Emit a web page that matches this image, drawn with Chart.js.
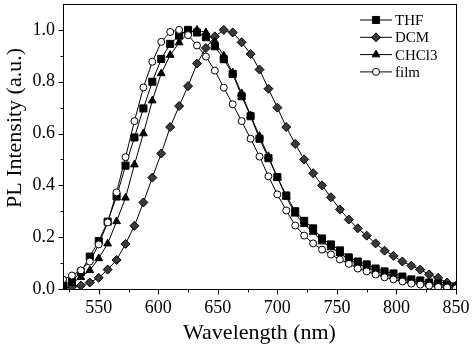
<!DOCTYPE html>
<html>
<head>
<meta charset="utf-8">
<script src="https://cdn.jsdelivr.net/npm/chart.js@4.4.0/dist/chart.umd.min.js"></script>
<style>
html, body { margin: 0; background: #fff; }
#wrap { width: 474px; height: 351px; }
</style>
</head>
<body>
<div id="wrap"><canvas id="plChart"></canvas></div>
<script>
const wavelength = [520, 527.5, 535, 542.5, 550, 557.5, 565, 572.5, 580, 587.5, 595, 602.5, 610, 617.5, 625,
    632.5, 640, 647.5, 655, 662.5, 670, 677.5, 685, 692.5, 700, 707.5, 715, 722.5, 730, 737.5,
    745, 752.5, 760, 767.5, 775, 782.5, 790, 797.5, 805, 812.5, 820, 827.5, 835, 842.5, 850]

const thf = [0.015, 0.03, 0.065, 0.125, 0.185, 0.26, 0.357, 0.476, 0.585, 0.697, 0.80, 0.888, 0.946, 0.978, 1.0,
    0.99, 0.972, 0.937, 0.887, 0.83, 0.744, 0.667, 0.58, 0.505, 0.432, 0.361, 0.30, 0.263, 0.234, 0.195,
    0.172, 0.149, 0.122, 0.106, 0.095, 0.079, 0.068, 0.06, 0.048, 0.037, 0.033, 0.025, 0.021, 0.014, 0.01]
const dcm = [0.003, 0.008, 0.013, 0.025, 0.043, 0.075, 0.112, 0.174, 0.244, 0.334, 0.43, 0.523, 0.625, 0.706, 0.783,
    0.87, 0.93, 0.975, 1.0, 0.99, 0.952, 0.907, 0.847, 0.773, 0.70, 0.625, 0.56, 0.5, 0.447, 0.40,
    0.354, 0.307, 0.268, 0.234, 0.206, 0.176, 0.148, 0.128, 0.106, 0.09, 0.075, 0.056, 0.043, 0.025, 0.013]
const chcl3 = [0.008, 0.022, 0.045, 0.072, 0.118, 0.175, 0.261, 0.352, 0.48, 0.6, 0.727, 0.832, 0.903, 0.951, 0.988,
    1.0, 0.99, 0.955, 0.9, 0.835, 0.755, 0.67, 0.59, 0.512, 0.43, 0.355, 0.29, 0.25, 0.22, 0.183,
    0.16, 0.138, 0.113, 0.098, 0.085, 0.07, 0.06, 0.05, 0.04, 0.031, 0.026, 0.019, 0.015, 0.01, 0.006]
const film = [0.037, 0.052, 0.072, 0.106, 0.172, 0.257, 0.373, 0.509, 0.648, 0.778, 0.877, 0.954, 0.992, 1.0, 0.98,
    0.94, 0.897, 0.843, 0.777, 0.713, 0.648, 0.58, 0.511, 0.435, 0.365, 0.303, 0.245, 0.206, 0.176, 0.152,
    0.133, 0.114, 0.097, 0.079, 0.068, 0.056, 0.045, 0.037, 0.029, 0.021, 0.017, 0.013, 0.008, 0.006, 0.003]

const xTicks = [550, 600, 650, 700, 750, 800, 850]
const xMinorTicks = [525, 575, 625, 675, 725, 775, 825]
const yTicks = [0, 0.2, 0.4, 0.6, 0.8, 1.0]
const yMinorTicks = [0.1, 0.3, 0.5, 0.7, 0.9]

const serif = "'Liberation Serif', 'Times New Roman', serif"

const series = [
    { label: 'THF', values: thf, style: 'rect', radius: 5, fill: '#000', order: 1 },
    { label: 'DCM', values: dcm, style: 'rectRot', radius: 4.5, fill: '#3a3a3a', order: 3 },
    { label: 'CHCl3', values: chcl3, style: 'triangle', radius: 4.5, fill: '#000', order: 2 },
    { label: 'film', values: film, style: 'circle', radius: 3.5, fill: '#fff', order: 0 }
]

function drawMarker(ctx, s, x, y) {
    const r = s.radius
    ctx.beginPath()
    if (s.style === 'rect') {
        const h = r * Math.SQRT1_2
        ctx.rect(x - h, y - h, 2 * h, 2 * h)
    } else if (s.style === 'rectRot') {
        ctx.moveTo(x, y - r); ctx.lineTo(x + r, y); ctx.lineTo(x, y + r); ctx.lineTo(x - r, y); ctx.closePath()
    } else if (s.style === 'triangle') {
        ctx.moveTo(x, y - r); ctx.lineTo(x + r * 0.866, y + r * 0.5); ctx.lineTo(x - r * 0.866, y + r * 0.5); ctx.closePath()
    } else {
        ctx.arc(x, y, r, 0, Math.PI * 2)
    }
    ctx.fillStyle = s.fill
    ctx.fill()
    ctx.lineWidth = 1
    ctx.strokeStyle = '#000'
    ctx.stroke()
}

const framePlugin = {
    id: 'frame',
    afterDraw(chart) {
        const ctx = chart.ctx
        const a = chart.chartArea
        const xs = chart.scales.x, ys = chart.scales.y
        ctx.save()
        ctx.strokeStyle = '#000'
        ctx.lineWidth = 1
        ctx.strokeRect(Math.round(a.left) + 0.5, Math.round(a.top) + 0.5,
            Math.round(a.right - a.left), Math.round(a.bottom - a.top))
        // tick marks, outward
        ctx.beginPath()
        const b = Math.round(a.bottom) + 0.5, l = Math.round(a.left) + 0.5
        xTicks.concat(xMinorTicks).forEach(v => {
            const px = Math.round(xs.getPixelForValue(v)) + 0.5
            const len = xTicks.includes(v) ? 5 : 3
            ctx.moveTo(px, b); ctx.lineTo(px, b + len)
        })
        yTicks.concat(yMinorTicks).forEach(v => {
            const py = Math.round(ys.getPixelForValue(v)) + 0.5
            const len = yTicks.includes(v) ? 5 : 3
            ctx.moveTo(l, py); ctx.lineTo(l - len, py)
        })
        ctx.stroke()

        // axis titles
        ctx.fillStyle = '#000'
        ctx.font = '22px ' + serif
        ctx.textAlign = 'center'
        ctx.textBaseline = 'middle'
        ctx.fillText('Wavelength (nm)', (a.left + a.right) / 2, 333)
        ctx.save()
        ctx.translate(15, 128)
        ctx.rotate(-Math.PI / 2)
        ctx.fillText('PL Intensity (a.u.)', 0, 0)
        ctx.restore()

        // legend
        ctx.font = '15px ' + serif
        ctx.textAlign = 'left'
        series.forEach((s, i) => {
            const y = 20 + i * 17.3
            ctx.beginPath()
            ctx.moveTo(360, y); ctx.lineTo(392, y)
            ctx.lineWidth = 1
            ctx.strokeStyle = '#000'
            ctx.stroke()
            drawMarker(ctx, s, 376, y)
            ctx.fillStyle = '#000'
            ctx.fillText(s.label, 395, y + 1)
        })
        ctx.restore()
    }
}

const plCtx = document.getElementById('plChart').getContext('2d')
const plChart = new Chart(plCtx, {
    type: 'line',
    data: {
        datasets: series.map(s => ({
            label: s.label,
            data: wavelength.map((w, i) => ({ x: w, y: s.values[i] })),
            borderColor: '#000',
            borderWidth: 1,
            backgroundColor: s.fill,
            pointStyle: s.style,
            pointRadius: s.radius,
            pointBorderColor: '#000',
            pointBorderWidth: 1,
            pointBackgroundColor: s.fill,
            tension: 0,
            order: s.order
        }))
    },
    options: {
        responsive: true,
        maintainAspectRatio: false,
        animation: false,
        layout: {
            autoPadding: false,
            padding: { left: 0, right: 18, top: 4, bottom: 0 }
        },
        plugins: {
            legend: { display: false },
            tooltip: { enabled: false }
        },
        scales: {
            x: {
                type: 'linear',
                min: 520,
                max: 850,
                grid: { display: false, drawTicks: false },
                border: { display: false },
                afterBuildTicks: scale => { scale.ticks = xTicks.map(v => ({ value: v })) },
                afterFit: scale => {
                    scale.height = 62
                    scale.paddingLeft = 0
                    scale.paddingRight = 0
                },
                ticks: {
                    color: '#000',
                    padding: 8,
                    maxRotation: 0,
                    font: { family: serif, size: 18 }
                }
            },
            y: {
                min: 0,
                max: 1.1,
                grid: { display: false, drawTicks: false },
                border: { display: false },
                afterBuildTicks: scale => { scale.ticks = yTicks.map(v => ({ value: v })) },
                afterFit: scale => {
                    scale.width = 63
                    scale.paddingTop = 0
                    scale.paddingBottom = 0
                },
                ticks: {
                    color: '#000',
                    padding: 8,
                    font: { family: serif, size: 18 },
                    callback: v => v.toFixed(1)
                }
            }
        }
    },
    plugins: [framePlugin]
})
</script>
</body>
</html>
